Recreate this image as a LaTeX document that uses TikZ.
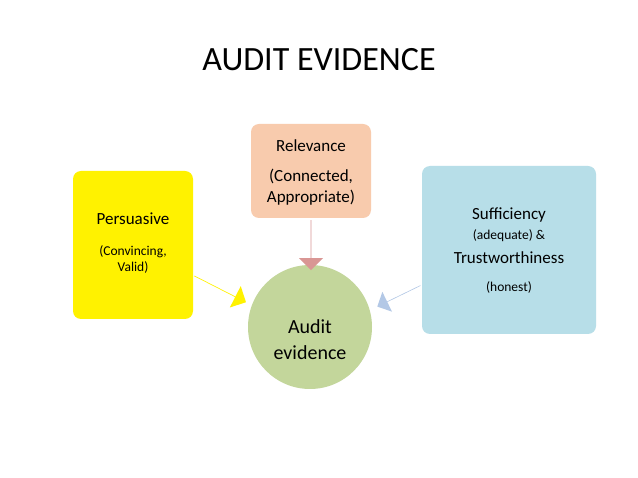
\documentclass[tikz,border=0pt]{standalone}
\usepackage{fontspec}
\setmainfont{Carlito}
\usetikzlibrary{shapes.arrows}
\definecolor{peach}{HTML}{F8CBAD}
\definecolor{lblue}{HTML}{B7DEE8}
\definecolor{lgreen}{HTML}{C3D69B}
\definecolor{pinkarr}{HTML}{D99694}
\definecolor{bluearr}{HTML}{B3C8E6}
\begin{document}
\begin{tikzpicture}[x=1pt,y=-1pt,
  box/.style={rounded corners=8pt,draw=none},
  barrow/.style={single arrow,draw=none,minimum height=#1,single arrow head extend=7pt,inner sep=0pt,minimum width=24pt},
  big/.style={font=\fontsize{17}{20}\selectfont},
  small/.style={font=\fontsize{13.5}{16}\selectfont}]
\useasboundingbox[fill=white] (0,0) rectangle (638,478);
\node (title) at (319,60) {\fontsize{34}{40}\selectfont AUDIT EVIDENCE};
\fill[yellow,box] (73,171) rectangle (193,319);
\node[big] (p) at (133,219) {Persuasive};
\node[small,align=center] (pc) at (133,260) {(Convincing,\\Valid)};
\fill[peach,box] (251,124) rectangle (371,218);
\node[big] (r) at (311,146) {Relevance};
\node[big,align=center,font=\fontsize{17}{21}\selectfont] (rc) at (311,187) {(Connected,\\Appropriate)};
\fill[lblue,box] (422,166) rectangle (596,334);
\node[big] (s) at (509,215) {Sufficiency};
\node[small] (sa) at (509,236) {(adequate) \&};
\node[big] (t) at (509,258) {Trustworthiness};
\node[small] (h) at (509,288) {(honest)};
\node[circle,fill=lgreen,minimum size=124pt,inner sep=0pt] (c) at (310,327) {};
\node[align=center,font=\fontsize{20}{26}\selectfont] (ct) at (310,340) {Audit\\evidence};
\node[barrow=58pt,fill=yellow,rotate=-27] (ay) at (220,289) {};
\node[barrow=50pt,fill=pinkarr,rotate=-90] (ap) at (311,245) {};
\node[barrow=48pt,fill=bluearr,rotate=206,minimum width=22pt] (ab) at (399,296) {};
\end{tikzpicture}
\end{document}
